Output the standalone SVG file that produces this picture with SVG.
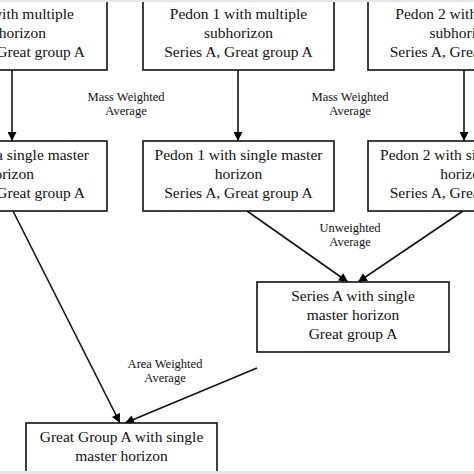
<svg xmlns="http://www.w3.org/2000/svg" width="474" height="474" viewBox="0 0 474 474">
<style>
.box{fill:#fff;stroke:#111;stroke-width:1.6}
.t{font-family:"Liberation Serif","Times New Roman",serif;font-size:15.5px;fill:#111}
.m{text-anchor:middle}
.e{text-anchor:end}
.l{font-family:"Liberation Serif","Times New Roman",serif;font-size:12.5px;fill:#111;text-anchor:middle}
.c{stroke:#111;stroke-width:1.6;fill:none;marker-end:url(#ah)}
</style>
<defs>
<marker id="ah" viewBox="0 0 10 10" refX="10" refY="5" markerWidth="10" markerHeight="9" markerUnits="userSpaceOnUse" orient="auto">
<path d="M0,0 L10,5 L0,10 z" fill="#000"/>
</marker>
</defs>
<rect x="0" y="0" width="474" height="474" fill="#fff"/>
<g id="connectors">
<line class="c" x1="12" y1="70" x2="12" y2="141"/>
<line class="c" x1="238" y1="70" x2="238" y2="141"/>
<line class="c" x1="464" y1="70" x2="464" y2="141"/>
<line class="c" x1="247" y1="211" x2="348" y2="282"/>
<line class="c" x1="463" y1="211" x2="358" y2="282"/>
<line class="c" x1="13" y1="211" x2="120" y2="423"/>
<line class="c" x1="257" y1="368" x2="125" y2="423"/>
<text class="l" x="126" y="101">Mass Weighted</text>
<text class="l" x="126" y="115">Average</text>
<text class="l" x="350" y="101">Mass Weighted</text>
<text class="l" x="350" y="115">Average</text>
<text class="l" x="350" y="232">Unweighted</text>
<text class="l" x="350" y="246">Average</text>
<text class="l" x="165" y="368">Area Weighted</text>
<text class="l" x="165" y="382">Average</text>
</g>
<g id="n1">
<rect class="box" x="-84" y="0" width="191" height="70"/>
<text class="t e" x="74" y="19">with multiple</text>
<text class="t e" x="46" y="38">horizon</text>
<text class="t e" x="85" y="57">Great group A</text>
</g>
<g id="n2">
<rect class="box" x="143" y="0" width="191" height="70"/>
<text class="t m" x="238.5" y="19">Pedon 1 with multiple</text>
<text class="t m" x="238.5" y="38">subhorizon</text>
<text class="t m" x="238.5" y="57">Series A, Great group A</text>
</g>
<g id="n3">
<rect class="box" x="368" y="0" width="191" height="70"/>
<text class="t m" x="464" y="19">Pedon 2 with multiple</text>
<text class="t m" x="464" y="38">subhorizon</text>
<text class="t m" x="464" y="57">Series A, Great group A</text>
</g>
<g id="n4">
<rect class="box" x="-84" y="141" width="191" height="70"/>
<text class="t e" x="89" y="160">a single master</text>
<text class="t e" x="34" y="179">horizon</text>
<text class="t e" x="85" y="198">Great group A</text>
</g>
<g id="n5">
<rect class="box" x="143" y="141" width="191" height="70"/>
<text class="t m" x="238.5" y="160">Pedon 1 with single master</text>
<text class="t m" x="238.5" y="179">horizon</text>
<text class="t m" x="238.5" y="198">Series A, Great group A</text>
</g>
<g id="n6">
<rect class="box" x="368" y="141" width="191" height="70"/>
<text class="t m" x="464" y="160">Pedon 2 with single master</text>
<text class="t m" x="464" y="179">horizon</text>
<text class="t m" x="464" y="198">Series A, Great group A</text>
</g>
<g id="n7">
<rect class="box" x="257" y="282" width="192" height="70"/>
<text class="t m" x="353" y="301">Series A with single</text>
<text class="t m" x="353" y="320">master horizon</text>
<text class="t m" x="353" y="339">Great group A</text>
</g>
<g id="n8">
<rect class="box" x="26" y="423" width="191" height="60"/>
<text class="t m" x="121.5" y="442">Great Group A with single</text>
<text class="t m" x="121.5" y="461">master horizon</text>
</g>
<rect x="0" y="0" width="474" height="2" fill="#e6e6e6"/>
<rect x="0" y="471" width="474" height="3" fill="#e6e6e6"/>
</svg>
